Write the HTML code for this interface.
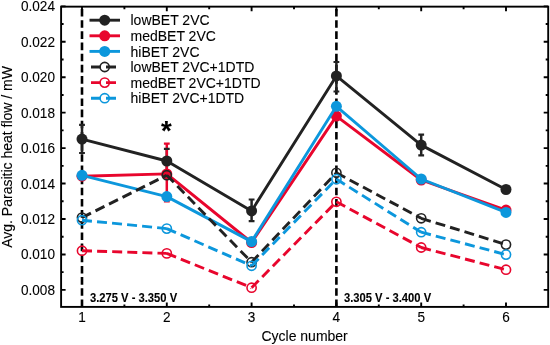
<!DOCTYPE html>
<html><head><meta charset="utf-8"><style>
html,body{margin:0;padding:0;background:#fff;width:550px;height:345px;overflow:hidden}
svg{display:block}
text{font-family:"Liberation Sans",sans-serif;fill:#000;stroke:#000;stroke-width:0.1px;filter:grayscale(1)}
.lg{font-size:14px}
.tk{font-size:13.6px}
.ax{font-size:14px}
.an{font-size:11.2px;font-weight:bold}
.ast{font-size:27.5px;font-weight:bold}
</style></head><body>
<svg width="550" height="345" viewBox="0 0 550 345">
<line x1="82.0" y1="6.65" x2="82.0" y2="306.9" stroke="#000" stroke-width="2.6" stroke-dasharray="7.6 3.57" stroke-dashoffset="8.8"/>
<line x1="336.4" y1="6.65" x2="336.4" y2="306.9" stroke="#000" stroke-width="2.6" stroke-dasharray="7.6 3.57" stroke-dashoffset="8.8"/>
<path d="M82.0 306.9 v-4.5 M82.0 6.65 v4.5 M124.4 306.9 v-2.5 M124.4 6.65 v2.5 M166.8 306.9 v-4.5 M166.8 6.65 v4.5 M209.2 306.9 v-2.5 M209.2 6.65 v2.5 M251.6 306.9 v-4.5 M251.6 6.65 v4.5 M294.0 306.9 v-2.5 M294.0 6.65 v2.5 M336.4 306.9 v-4.5 M336.4 6.65 v4.5 M378.8 306.9 v-2.5 M378.8 6.65 v2.5 M421.2 306.9 v-4.5 M421.2 6.65 v4.5 M463.6 306.9 v-2.5 M463.6 6.65 v2.5 M506.0 306.9 v-4.5 M506.0 6.65 v4.5 M61.1 289.87 h4.5 M548.2 289.87 h-4.5 M61.1 272.15 h2.5 M548.2 272.15 h-2.5 M61.1 254.43 h4.5 M548.2 254.43 h-4.5 M61.1 236.71 h2.5 M548.2 236.71 h-2.5 M61.1 218.99 h4.5 M548.2 218.99 h-4.5 M61.1 201.27 h2.5 M548.2 201.27 h-2.5 M61.1 183.55 h4.5 M548.2 183.55 h-4.5 M61.1 165.83 h2.5 M548.2 165.83 h-2.5 M61.1 148.11 h4.5 M548.2 148.11 h-4.5 M61.1 130.39 h2.5 M548.2 130.39 h-2.5 M61.1 112.67 h4.5 M548.2 112.67 h-4.5 M61.1 94.95 h2.5 M548.2 94.95 h-2.5 M61.1 77.23 h4.5 M548.2 77.23 h-4.5 M61.1 59.51 h2.5 M548.2 59.51 h-2.5 M61.1 41.79 h4.5 M548.2 41.79 h-4.5 M61.1 24.07 h2.5 M548.2 24.07 h-2.5 M61.1 6.35 h4.5 M548.2 6.35 h-4.5" stroke="#000" stroke-width="1.9" fill="none"/>
<rect x="61.1" y="6.65" width="487.10" height="300.25" fill="none" stroke="#000" stroke-width="1.9"/>
<path d="M82.0 124.9 V153.0" stroke="#222222" stroke-width="2.5" fill="none"/>
<path d="M166.8 148.9 V173.1" stroke="#222222" stroke-width="2.5" fill="none"/>
<path d="M251.6 199.5 V221.1" stroke="#222222" stroke-width="2.5" fill="none"/>
<path d="M336.4 62.0 V91.5" stroke="#222222" stroke-width="2.5" fill="none"/>
<path d="M421.2 134.7 V155.4" stroke="#222222" stroke-width="2.5" fill="none"/>
<path d="M166.8 143.7 V201.5" stroke="#e8062d" stroke-width="2.5" fill="none"/>
<path d="M79.1 124.9 h5.8 M79.1 153.0 h5.8" stroke="#222222" stroke-width="2.2" fill="none"/>
<path d="M163.9 148.9 h5.8 M163.9 173.1 h5.8" stroke="#222222" stroke-width="2.2" fill="none"/>
<path d="M248.7 199.5 h5.8 M248.7 221.1 h5.8" stroke="#222222" stroke-width="2.2" fill="none"/>
<path d="M333.5 62.0 h5.8 M333.5 91.5 h5.8" stroke="#222222" stroke-width="2.2" fill="none"/>
<path d="M418.3 134.7 h5.8 M418.3 155.4 h5.8" stroke="#222222" stroke-width="2.2" fill="none"/>
<path d="M163.9 143.7 h5.8 M163.9 201.5 h5.8" stroke="#e8062d" stroke-width="2.2" fill="none"/>
<polyline points="82.0,139.1 166.8,161 251.6,210.9 336.4,75.9 421.2,145.1 506.0,189.5" fill="none" stroke="#222222" stroke-width="2.9" stroke-linejoin="round"/>
<circle cx="82.0" cy="139.1" r="5.5" fill="#222222"/>
<circle cx="166.8" cy="161" r="5.5" fill="#222222"/>
<circle cx="251.6" cy="210.9" r="5.5" fill="#222222"/>
<circle cx="336.4" cy="75.9" r="5.5" fill="#222222"/>
<circle cx="421.2" cy="145.1" r="5.5" fill="#222222"/>
<circle cx="506.0" cy="189.5" r="5.5" fill="#222222"/>
<polyline points="82.0,176.2 166.8,173.9 251.6,242.5 336.4,116.1 421.2,180 506.0,210.1" fill="none" stroke="#e8062d" stroke-width="2.9" stroke-linejoin="round"/>
<circle cx="82.0" cy="176.2" r="5.5" fill="#e8062d"/>
<circle cx="166.8" cy="173.9" r="5.5" fill="#e8062d"/>
<circle cx="251.6" cy="242.5" r="5.5" fill="#e8062d"/>
<circle cx="336.4" cy="116.1" r="5.5" fill="#e8062d"/>
<circle cx="421.2" cy="180" r="5.5" fill="#e8062d"/>
<circle cx="506.0" cy="210.1" r="5.5" fill="#e8062d"/>
<polyline points="82.0,175.3 166.8,196.6 251.6,241.6 336.4,106.3 421.2,179 506.0,212.4" fill="none" stroke="#0c97dc" stroke-width="2.9" stroke-linejoin="round"/>
<circle cx="82.0" cy="175.3" r="5.5" fill="#0c97dc"/>
<circle cx="166.8" cy="196.6" r="5.5" fill="#0c97dc"/>
<circle cx="251.6" cy="241.6" r="5.5" fill="#0c97dc"/>
<circle cx="336.4" cy="106.3" r="5.5" fill="#0c97dc"/>
<circle cx="421.2" cy="179" r="5.5" fill="#0c97dc"/>
<circle cx="506.0" cy="212.4" r="5.5" fill="#0c97dc"/>
<path d="M82.0 217.6 L166.8 175.2 M166.8 175.2 L251.6 262.2 M251.6 262.2 L336.4 172.8 M336.4 172.8 L421.2 218.3 M421.2 218.3 L506.0 244.6" fill="none" stroke="#222222" stroke-width="2.9" stroke-dasharray="10 5.1" stroke-dashoffset="0"/>
<circle cx="82.0" cy="217.6" r="4.6" fill="none" stroke="#222222" stroke-width="1.6"/>
<circle cx="166.8" cy="175.2" r="4.6" fill="none" stroke="#222222" stroke-width="1.6"/>
<circle cx="251.6" cy="262.2" r="4.6" fill="none" stroke="#222222" stroke-width="1.6"/>
<circle cx="336.4" cy="172.8" r="4.6" fill="none" stroke="#222222" stroke-width="1.6"/>
<circle cx="421.2" cy="218.3" r="4.6" fill="none" stroke="#222222" stroke-width="1.6"/>
<circle cx="506.0" cy="244.6" r="4.6" fill="none" stroke="#222222" stroke-width="1.6"/>
<path d="M82.0 250.7 L166.8 253.4 M166.8 253.4 L251.6 287.7 M251.6 287.7 L336.4 201.8 M336.4 201.8 L421.2 247.5 M421.2 247.5 L506.0 269.7" fill="none" stroke="#e8062d" stroke-width="2.9" stroke-dasharray="10 5.1" stroke-dashoffset="0"/>
<circle cx="82.0" cy="250.7" r="4.6" fill="none" stroke="#e8062d" stroke-width="1.6"/>
<circle cx="166.8" cy="253.4" r="4.6" fill="none" stroke="#e8062d" stroke-width="1.6"/>
<circle cx="251.6" cy="287.7" r="4.6" fill="none" stroke="#e8062d" stroke-width="1.6"/>
<circle cx="336.4" cy="201.8" r="4.6" fill="none" stroke="#e8062d" stroke-width="1.6"/>
<circle cx="421.2" cy="247.5" r="4.6" fill="none" stroke="#e8062d" stroke-width="1.6"/>
<circle cx="506.0" cy="269.7" r="4.6" fill="none" stroke="#e8062d" stroke-width="1.6"/>
<path d="M82.0 220.2 L166.8 228.6 M166.8 228.6 L251.6 265.8 M251.6 265.8 L336.4 179.1 M336.4 179.1 L421.2 232.2 M421.2 232.2 L506.0 254.6" fill="none" stroke="#0c97dc" stroke-width="2.9" stroke-dasharray="10 5.1" stroke-dashoffset="0"/>
<circle cx="82.0" cy="220.2" r="4.6" fill="none" stroke="#0c97dc" stroke-width="1.6"/>
<circle cx="166.8" cy="228.6" r="4.6" fill="none" stroke="#0c97dc" stroke-width="1.6"/>
<circle cx="251.6" cy="265.8" r="4.6" fill="none" stroke="#0c97dc" stroke-width="1.6"/>
<circle cx="336.4" cy="179.1" r="4.6" fill="none" stroke="#0c97dc" stroke-width="1.6"/>
<circle cx="421.2" cy="232.2" r="4.6" fill="none" stroke="#0c97dc" stroke-width="1.6"/>
<circle cx="506.0" cy="254.6" r="4.6" fill="none" stroke="#0c97dc" stroke-width="1.6"/>
<line x1="89.5" y1="20.2" x2="120" y2="20.2" stroke="#222222" stroke-width="2.9"/>
<circle cx="104.7" cy="20.2" r="5.5" fill="#222222"/>
<text transform="translate(130.5,25.40) scale(1,1.0)" class="lg">lowBET 2VC</text>
<line x1="89.5" y1="35.8" x2="120" y2="35.8" stroke="#e8062d" stroke-width="2.9"/>
<circle cx="104.7" cy="35.8" r="5.5" fill="#e8062d"/>
<text transform="translate(130.5,41.00) scale(1,1.0)" class="lg">medBET 2VC</text>
<line x1="89.5" y1="51.4" x2="120" y2="51.4" stroke="#0c97dc" stroke-width="2.9"/>
<circle cx="104.7" cy="51.4" r="5.5" fill="#0c97dc"/>
<text transform="translate(130.5,56.60) scale(1,1.0)" class="lg">hiBET 2VC</text>
<path d="M91 67.0 H101 M106 67.0 H116" stroke="#222222" stroke-width="2.9"/>
<circle cx="104.7" cy="67.0" r="4.6" fill="none" stroke="#222222" stroke-width="1.6"/>
<text transform="translate(130.5,72.20) scale(1,1.0)" class="lg">lowBET 2VC+1DTD</text>
<path d="M91 82.6 H101 M106 82.6 H116" stroke="#e8062d" stroke-width="2.9"/>
<circle cx="104.7" cy="82.6" r="4.6" fill="none" stroke="#e8062d" stroke-width="1.6"/>
<text transform="translate(130.5,87.80) scale(1,1.0)" class="lg">medBET 2VC+1DTD</text>
<path d="M91 98.2 H101 M106 98.2 H116" stroke="#0c97dc" stroke-width="2.9"/>
<circle cx="104.7" cy="98.2" r="4.6" fill="none" stroke="#0c97dc" stroke-width="1.6"/>
<text transform="translate(130.5,103.40) scale(1,1.0)" class="lg">hiBET 2VC+1DTD</text>
<text transform="translate(82.0,322.3) scale(1,1.12)" class="tk" text-anchor="middle">1</text>
<text transform="translate(166.8,322.3) scale(1,1.12)" class="tk" text-anchor="middle">2</text>
<text transform="translate(251.6,322.3) scale(1,1.12)" class="tk" text-anchor="middle">3</text>
<text transform="translate(336.4,322.3) scale(1,1.12)" class="tk" text-anchor="middle">4</text>
<text transform="translate(421.2,322.3) scale(1,1.12)" class="tk" text-anchor="middle">5</text>
<text transform="translate(506.0,322.3) scale(1,1.12)" class="tk" text-anchor="middle">6</text>
<text transform="translate(55,294.87) scale(1,1.07)" class="tk" text-anchor="end">0.008</text>
<text transform="translate(55,259.43) scale(1,1.07)" class="tk" text-anchor="end">0.010</text>
<text transform="translate(55,223.99) scale(1,1.07)" class="tk" text-anchor="end">0.012</text>
<text transform="translate(55,188.55) scale(1,1.07)" class="tk" text-anchor="end">0.014</text>
<text transform="translate(55,153.11) scale(1,1.07)" class="tk" text-anchor="end">0.016</text>
<text transform="translate(55,117.67) scale(1,1.07)" class="tk" text-anchor="end">0.018</text>
<text transform="translate(55,82.23) scale(1,1.07)" class="tk" text-anchor="end">0.020</text>
<text transform="translate(55,46.79) scale(1,1.07)" class="tk" text-anchor="end">0.022</text>
<text transform="translate(55,11.35) scale(1,1.07)" class="tk" text-anchor="end">0.024</text>
<text x="304.6" y="341" class="ax" text-anchor="middle">Cycle number</text>
<text transform="translate(12,156.9) rotate(-90)" class="ax" text-anchor="middle">Avg. Parasitic heat flow / mW</text>
<text transform="translate(90,301.9) scale(1,1.06)" class="an">3.275 V - 3.350 V</text>
<text transform="translate(344,301.9) scale(1,1.06)" class="an">3.305 V - 3.400 V</text>
<text x="166.4" y="140.4" class="ast" text-anchor="middle">*</text>
</svg>
</body></html>
